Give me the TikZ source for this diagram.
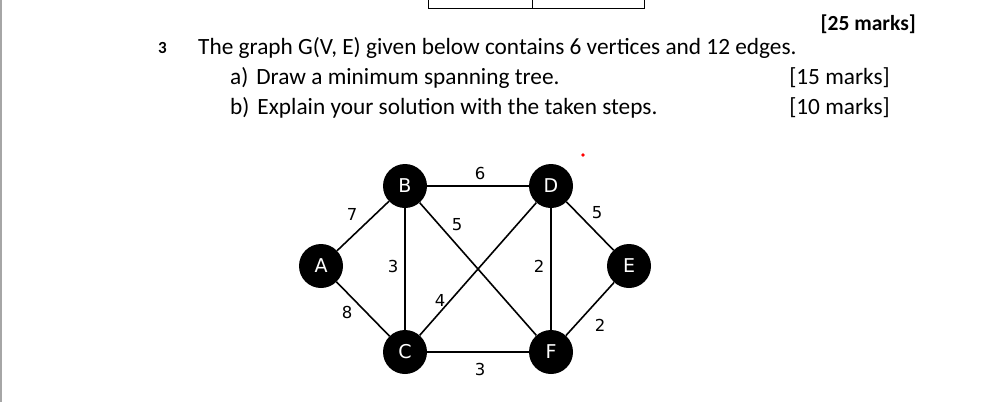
\documentclass[tikz,border=0pt]{standalone}
\usepackage{fontspec}
\setmainfont{Carlito}
\newfontfamily\gfont{DejaVu Sans}
\newcommand{\vfnt}{\gfont\fontsize{19}{19}\selectfont}
\newcommand{\wfnt}{\gfont\fontsize{16.5}{17}\selectfont}
\begin{document}
\begin{tikzpicture}[x=1pt,y=-1pt,
  vert/.style={circle,fill=black,minimum size=44pt,inner sep=0pt,text=white},
  edge/.style={line width=1.6pt},
  wt/.style={inner sep=0pt},
  txt/.style={font=\fontsize{23.3}{24}\selectfont,anchor=base west,inner sep=0pt}]
\useasboundingbox[fill=white] (0,0) rectangle (987,402);
\fill[gray!70] (0,0) rectangle (2,402);
\draw[line width=1pt] (428,-2) -- (428,8) -- (644,8) -- (644,-2);
\draw[line width=1pt] (532,-2) -- (532,8);
\node[txt,anchor=base east,font=\bfseries\fontsize{21.5}{22}\selectfont] (m25) at (916,30) {[25 marks]};
\node[txt,font=\bfseries\fontsize{17}{18}\selectfont] (q3) at (158,53) {3};
\node[txt] (t1) at (198,54) {The graph G(V, E) given below contains 6 vertices and 12 edges.};
\node[txt] (ta) at (230,84) {a)\hspace{8pt}Draw a minimum spanning tree.};
\node[txt] (tb) at (230,114) {b)\hspace{8pt}Explain your solution with the taken steps.};
\node[txt,anchor=base east] (ma) at (890,84) {[15 marks]};
\node[txt,anchor=base east] (mb) at (890,114) {[10 marks]};
\fill[red] (583,155) circle (1.8);
\node[vert] (A) at (321,266) {\vfnt A};
\node[vert] (B) at (405,186) {\vfnt B};
\node[vert] (C) at (405,352) {\vfnt C};
\node[vert] (D) at (551,186) {\vfnt D};
\node[vert] (E) at (629,266) {\vfnt E};
\node[vert] (F) at (551,352) {\vfnt F};
\draw[edge] (A) -- (B); \draw[edge] (A) -- (C); \draw[edge] (B) -- (C);
\draw[edge] (B) -- (D); \draw[edge] (B) -- (F); \draw[edge] (C) -- (D);
\draw[edge] (C) -- (F); \draw[edge] (D) -- (F); \draw[edge] (D) -- (E);
\draw[edge] (E) -- (F);
\node[wt] (w1) at (480,173) {\wfnt 6};
\node[wt] (w2) at (352,214) {\wfnt 7};
\node[wt] (w3) at (457,225) {\wfnt 5};
\node[wt] (w4) at (597,213) {\wfnt 5};
\node[wt] (w5) at (393,266) {\wfnt 3};
\node[wt] (w6) at (539,266) {\wfnt 2};
\node[wt] (w7) at (440,300) {\wfnt 4};
\node[wt] (w8) at (347,312) {\wfnt 8};
\node[wt] (w9) at (600,325) {\wfnt 2};
\node[wt] (w10) at (480,369) {\wfnt 3};
\end{tikzpicture}
\end{document}
